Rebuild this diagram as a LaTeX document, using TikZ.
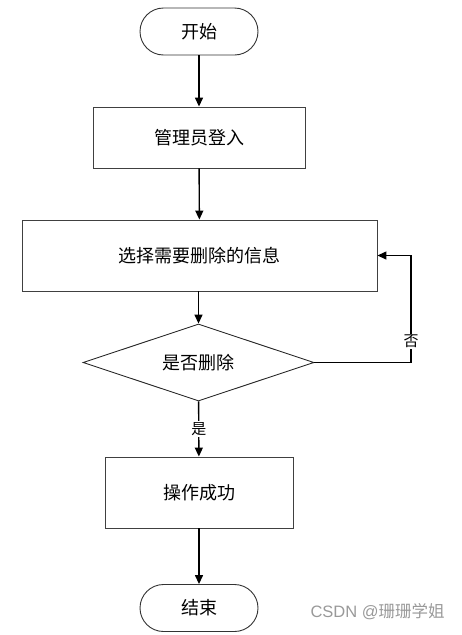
\documentclass[tikz,border=0pt]{standalone}
\usepackage{fontspec}
\setmainfont{Noto Sans CJK SC}
\newfontfamily\wmfont{Liberation Sans}
\newfontfamily\cjk{Noto Sans CJK SC}
\usetikzlibrary{shapes.geometric,arrows.meta}
\begin{document}
\begin{tikzpicture}[x=1pt,y=-1pt,
  every node/.style={font=\fontsize{18}{21}\selectfont},
  term/.style={draw=black!80, line width=0.9pt, rounded corners=23.5pt, minimum width=118pt, minimum height=47pt, inner sep=0pt},
  proc/.style={draw=black!75, line width=0.9pt, inner sep=0pt},
  dec/.style={draw=black!85, line width=0.9pt, diamond, aspect=3, inner sep=0pt, minimum width=231pt, minimum height=77pt},
  conn/.style={draw=black, line width=1.4pt, -{Triangle[length=9pt,width=8pt]}},
  lbl/.style={fill=white, inner sep=1pt, font=\fontsize{15}{17}\selectfont}]
\useasboundingbox (0,0) rectangle (461,635);
\node[term] (start) at (199,31.5) {开始};
\node[proc, minimum width=212pt, minimum height=61pt] (login) at (199,137.5) {管理员登入};
\node[proc, minimum width=355pt, minimum height=71pt] (select) at (199.5,255.5) {选择需要删除的信息};
\node[dec] (decide) at (198.5,362.5) {是否删除};
\node[proc, minimum width=188pt, minimum height=71pt] (ok) at (199,492.5) {操作成功};
\node[term] (end) at (199,608) {结束};
\coordinate (corner) at (411,362.5);
\coordinate (cornertop) at (411,255.5);
\draw[conn] (start) -- (login);
\draw[conn] (login) -- (select);
\draw[conn] (select.south -| decide.north) -- (decide.north);
\draw[conn] (decide) -- node[lbl, pos=0.5]{是} (ok);
\draw[conn] (ok) -- (end);
\draw[conn] (decide.east) -- (corner) -- node[lbl, pos=0.2]{否} (cornertop) -- (select.east);
\node[text=black!40, font=\fontsize{16.5}{19}\selectfont, anchor=west] (wm) at (307,612) {\wmfont CSDN @\cjk 珊珊学姐};
\end{tikzpicture}
\end{document}
